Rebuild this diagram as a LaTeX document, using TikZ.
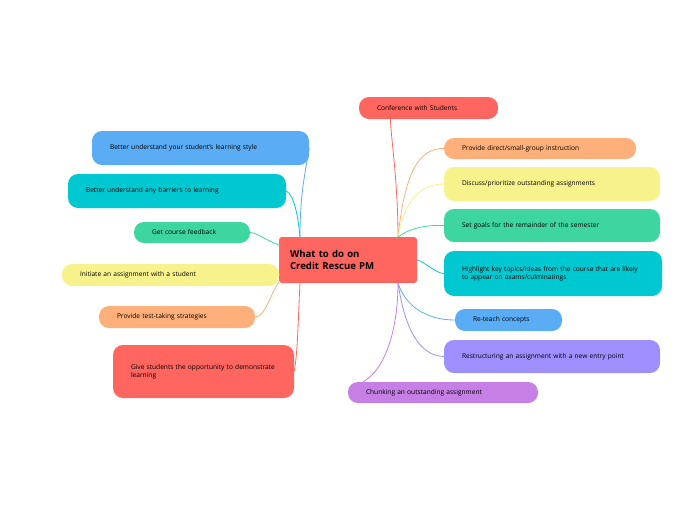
\documentclass[tikz,border=0pt]{standalone}
\usepackage{fontspec}
\setmainfont{Open Sans}
\definecolor{cred}{HTML}{FF665F}
\definecolor{corange}{HTML}{FFB07A}
\definecolor{cyellow}{HTML}{F8F28C}
\definecolor{cgreen}{HTML}{3DD6A0}
\definecolor{ccyan}{HTML}{00C8D0}
\definecolor{cblue}{HTML}{5AACF5}
\definecolor{cviolet}{HTML}{9E8FFF}
\definecolor{cpurple}{HTML}{C57FE5}
\tikzset{
 bx/.style n args={3}{fill=#1,rounded corners=10pt,minimum width=#2pt,minimum height=#3pt,
   text width=#2pt-36pt,align=left,inner xsep=18pt,inner ysep=0pt,font=\fontsize{6.6}{8.2}\selectfont},
 ln/.style={draw=#1,line width=0.8pt}
}
\begin{document}
\begin{tikzpicture}[x=1pt,y=-1pt]
\useasboundingbox (0,0) rectangle (697,520);
\node[fill=cred,rounded corners=3pt,minimum width=138pt,minimum height=46pt,text width=116pt,align=left,font=\bfseries\fontsize{9.6}{12}\selectfont] (c) at (348,260) {What to do on\\Credit Rescue PM};
% right
\node[bx={cred}{139}{22}] (r1) at (428.5,108) {Conference with Students};
\node[bx={corange}{192}{21}] (r2) at (540,148.5) {Provide direct/small-group instruction};
\node[bx={cyellow}{216}{34}] (r3) at (552,184) {Discuss/prioritize outstanding assignments};
\node[bx={cgreen}{216}{33}] (r4) at (552,225.5) {Set goals for the remainder of the semester};
\node[bx={ccyan}{218}{45}] (r5) at (553,273.5) {Highlight key topics/ideas from the course that are likely to appear on exams/culminatings};
\node[bx={cblue}{107}{22}] (r6) at (508.5,320) {Re-teach concepts};
\node[bx={cviolet}{216}{33}] (r7) at (552,356.5) {Restructuring an assignment with a new entry point};
\node[bx={cpurple}{190}{21}] (r8) at (443,392.5) {Chunking an outstanding assignment};
% left
\node[bx={cblue}{217}{34}] (l1) at (200.5,148) {Better understand your student's learning style};
\node[bx={ccyan}{218}{34}] (l2) at (177,191) {Better understand any barriers to learning};
\node[bx={cgreen}{116}{21}] (l3) at (192,232.5) {Get course feedback};
\node[bx={cyellow}{217}{22}] (l4) at (170.5,275) {Initiate an assignment with a student};
\node[bx={corange}{156}{22}] (l5) at (177,317) {Provide test-taking strategies};
\node[bx={cred}{181}{53}] (l6) at (203.5,371.5) {Give students the opportunity to demonstrate learning};
% connectors right
\coordinate (ct) at (398,237);
\coordinate (cb) at (398,283);
\draw[ln=cred] (ct) .. controls (398,180) and (390,130) .. ([xshift=-38pt]r1.south);
\draw[ln=corange] (ct) .. controls (405,170) and (420,148) .. (r2.west);
\draw[ln=cyellow] (ct) .. controls (405,200) and (420,184) .. (r3.west);
\draw[ln=cgreen] (ct) .. controls (410,228) and (425,225) .. (r4.west);
\draw[ln=ccyan] (c.east) .. controls (425,262) and (435,273) .. (r5.west);
\draw[ln=cblue] (cb) .. controls (405,305) and (425,320) .. (r6.west);
\draw[ln=cviolet] (cb) .. controls (405,330) and (420,356) .. (r7.west);
\draw[ln=cpurple] (cb) .. controls (398,330) and (385,370) .. ([xshift=-80pt]r8.north);
% connectors left
\coordinate (lt) at (300,237);
\coordinate (lb) at (300,283);
\draw[ln=cblue] (lt) .. controls (300,190) and (306,170) .. (l1.east);
\draw[ln=ccyan] (lt) .. controls (298,215) and (294,195) .. (l2.east);
\draw[ln=cgreen] (c.west|-0,245) .. controls (265,240) and (258,233) .. (l3.east);
\draw[ln=cyellow] (c.west|-0,270) .. controls (275,272) and (280,275) .. (l4.east);
\draw[ln=corange] (c.west|-0,282) .. controls (270,295) and (265,317) .. (l5.east);
\draw[ln=cred] (lb) .. controls (298,320) and (298,350) .. (l6.east);
\end{tikzpicture}
\end{document}
